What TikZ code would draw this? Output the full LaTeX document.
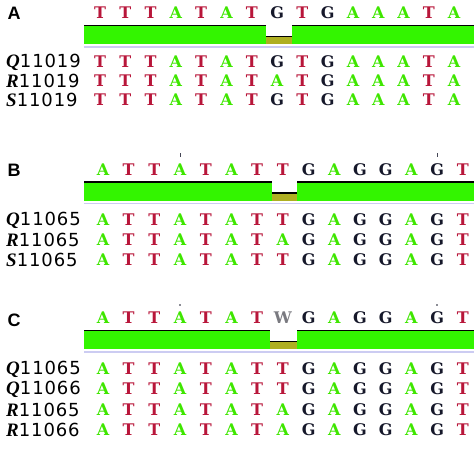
\documentclass[tikz,border=0pt]{standalone}
\usepackage{fontspec}
\setmainfont{Liberation Serif}
\newfontfamily\seqfont{DejaVu Serif}
\newfontfamily\numfont[LetterSpace=5]{DejaVu Sans}
\newfontfamily\panelfont{Liberation Sans}
\definecolor{tred}{HTML}{B8163A}
\definecolor{agreen}{HTML}{3FE600}
\definecolor{gdark}{HTML}{16182A}
\definecolor{wgray}{HTML}{7A7A80}
\definecolor{bargreen}{HTML}{33F500}
\definecolor{olive}{HTML}{AFAF22}
\definecolor{lav}{HTML}{CCCCF2}
\tikzset{
  seq/.style={inner sep=0pt, font=\seqfont\bfseries\fontsize{16}{16}\selectfont},
  LT/.style={seq, text=tred},
  LA/.style={seq, text=agreen},
  LG/.style={seq, text=gdark},
  LW/.style={seq, text=wgray},
  rowlab/.style={inner sep=0pt, anchor=west},
  panel/.style={inner sep=0pt, font=\panelfont\bfseries\fontsize{18}{18}\selectfont},
}
\newcommand\seqrow[5]{%
  \foreach \l [count=\i] in {#5} {
    \node[L\l] (#1-\i) at ({#2+#3*(\i-1)}, #4) {\l};
  }%
}
\newcommand\rowlabel[4]{%
  \node[rowlab] (#1) at (6,#2) {{\fontsize{19}{19}\selectfont\bfseries\itshape #3}{\numfont\fontsize{18}{18}\selectfont #4}};%
}
\newcommand\seqbar[3]{% top, gapL, gapR
  \fill[bargreen] (84,#1) rectangle (474,#1+18.5);
  \fill[white] (#2,#1-0.6) rectangle (#3,#1+11);
  \fill[olive] (#2,#1+11) rectangle (#3,#1+18.5);
  \draw[black, line width=1.1pt] (84,#1) -- (#2,#1) (#3,#1) -- (474,#1);
  \draw[black, line width=1.1pt] (#2,#1+11) -- (#3,#1+11);
  \draw[lav, line width=1.2pt] (84,#1+21.5) -- (474,#1+21.5);
}
\begin{document}
\begin{tikzpicture}[x=1pt,y=-1pt]
\useasboundingbox (0,0) rectangle (474,451);
% Panel A
\node[panel] (pA) at (14,13) {A};
\seqrow{ac}{100}{25.3}{13}{T,T,T,A,T,A,T,G,T,G,A,A,A,T,A}
\seqbar{25.5}{266}{292}
\rowlabel{aq}{62}{Q}{11019}
\rowlabel{ar}{81}{R}{11019}
\rowlabel{as}{100}{S}{11019}
\seqrow{aq}{100}{25.3}{62}{T,T,T,A,T,A,T,G,T,G,A,A,A,T,A}
\seqrow{ar}{100}{25.3}{81}{T,T,T,A,T,A,T,A,T,G,A,A,A,T,A}
\seqrow{as}{100}{25.3}{100}{T,T,T,A,T,A,T,G,T,G,A,A,A,T,A}
% Panel B
\node[panel] (pB) at (14,170) {B};
\seqrow{bc}{103}{25.7}{170}{A,T,T,A,T,A,T,T,G,A,G,G,A,G,T}
\draw[gdark!80, line width=0.7pt] (180,153) -- (180,157) (437,153) -- (437,157);
\seqbar{182}{272}{297}
\rowlabel{bq}{220}{Q}{11065}
\rowlabel{br}{240}{R}{11065}
\rowlabel{bs}{260}{S}{11065}
\seqrow{bq}{103}{25.7}{220}{A,T,T,A,T,A,T,T,G,A,G,G,A,G,T}
\seqrow{br}{103}{25.7}{240}{A,T,T,A,T,A,T,A,G,A,G,G,A,G,T}
\seqrow{bs}{103}{25.7}{260}{A,T,T,A,T,A,T,T,G,A,G,G,A,G,T}
% Panel C
\node[panel] (pC) at (14,320) {C};
\seqrow{cc}{103}{25.7}{318}{A,T,T,A,T,A,T,W,G,A,G,G,A,G,T}
\fill[gdark] (180,305) circle (0.9) (437,305) circle (0.9);
\seqbar{330.5}{270}{297}
\rowlabel{cq5}{369}{Q}{11065}
\rowlabel{cq6}{389}{Q}{11066}
\rowlabel{cr5}{410}{R}{11065}
\rowlabel{cr6}{430}{R}{11066}
\seqrow{cq5}{103}{25.7}{369}{A,T,T,A,T,A,T,T,G,A,G,G,A,G,T}
\seqrow{cq6}{103}{25.7}{389}{A,T,T,A,T,A,T,T,G,A,G,G,A,G,T}
\seqrow{cr5}{103}{25.7}{410}{A,T,T,A,T,A,T,A,G,A,G,G,A,G,T}
\seqrow{cr6}{103}{25.7}{430}{A,T,T,A,T,A,T,A,G,A,G,G,A,G,T}
\end{tikzpicture}
\end{document}
